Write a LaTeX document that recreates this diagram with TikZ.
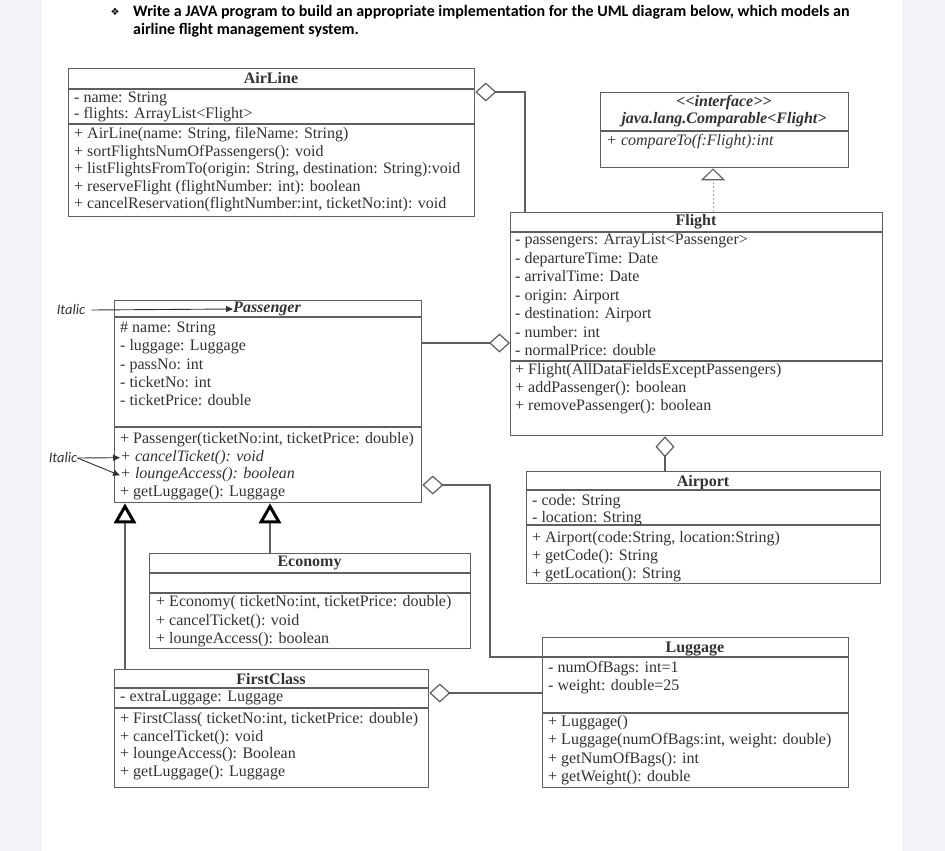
\documentclass[tikz,border=0pt]{standalone}
\usepackage{fontspec}
\setmainfont{Liberation Serif}
\newfontfamily\notefont{Carlito}
\newfontfamily\dingfont{DejaVu Sans}
\usetikzlibrary{arrows.meta}
\definecolor{pagegray}{RGB}{241,243,246}
\definecolor{ink}{RGB}{50,50,50}
\definecolor{rule}{RGB}{95,95,95}

\begin{document}
\begin{tikzpicture}[x=1pt, y=-1pt,
    every node/.style={font=\fontsize{16}{18}\selectfont, text=ink},
    box/.style={draw=rule, line width=1.3pt, anchor=north west, inner sep=0pt},
    row/.style={anchor=west, inner sep=0pt, text height=11pt, text depth=4pt},
    head/.style={inner sep=0pt, font=\fontsize{16}{18}\selectfont\bfseries},
    compline/.style={draw=rule, line width=1.1pt},
    itnote/.style={inner sep=0pt, font=\notefont\itshape\fontsize{14.5}{16}\selectfont},
    pointer/.style={draw=ink, line width=0.9pt, -{Triangle[length=7pt, width=6pt]}},
    aggr/.style={draw=rule, line width=1.2pt, {Diamond[open, length=21pt, width=19pt]}-},
    gen/.style={draw=rule, line width=1.2pt, -{Triangle[open, length=20pt, width=22pt, line width=3pt, color=black]}},
    real/.style={draw=rule!55, line width=1pt, dash pattern=on 2pt off 2pt, -{Triangle[open, length=12pt, width=24pt, line width=1.2pt, color=rule]}}]
    \useasboundingbox (0,0) rectangle (945,851);
    \fill[pagegray] (0,0) rectangle (945,851);
    \fill[white] (42,0) rectangle (902,851);

    % task text
    \node[font=\dingfont\fontsize{10}{10}\selectfont, text=black] (bullet) at (115,12) {❖};
    \node[anchor=base west, inner sep=0pt, text=black, font=\notefont\bfseries\fontsize{16}{18}\selectfont] (task1) at (133,17)
        {Write a JAVA program to build an appropriate implementation for the UML diagram below, which models an};
    \node[anchor=base west, inner sep=0pt, text=black, font=\notefont\bfseries\fontsize{16}{18}\selectfont] (task2) at (133,35)
        {airline flight management system.};

    % AirLine
    \node[box, minimum width=406pt, minimum height=148pt] (airline) at (68,68) {};
    \node[head] (airline-t) at (271,78) {AirLine};
    \draw[compline] (68,89) -- (474,89);
    \draw[compline] (68,124) -- (474,124);
    \foreach \txt [count=\k] in {- name: String, {- flights: ArrayList<Flight>}}
        \node[row] (airline-a\k) at (74, 99+16*\k-16) {\txt};
    \foreach \txt [count=\k] in {{+ AirLine(name: String, fileName: String)}, + sortFlightsNumOfPassengers(): void,
        {+ listFlightsFromTo(origin: String, destination: String):void}, + reserveFlight (flightNumber: int): boolean,
        {+ cancelReservation(flightNumber:int, ticketNo:int): void}}
        \node[row] (airline-m\k) at (74, 135+17.5*\k-17.5) {\txt};

    % interface
    \node[box, minimum width=248pt, minimum height=75pt] (iface) at (600,92) {};
    \node[head, font=\fontsize{16}{18}\selectfont\bfseries\itshape] (iface-s) at (724,103) {<\kern0pt<interface>\kern0pt>};
    \node[head, font=\fontsize{16}{18}\selectfont\bfseries\itshape] (iface-t) at (724,120) {java.lang.Comparable<Flight>};
    \draw[compline] (600,131) -- (848,131);
    \node[row, font=\fontsize{16}{18}\selectfont\itshape] (iface-m1) at (606,142) {+ compareTo(f:Flight):int};

    % Flight
    \node[box, minimum width=372pt, minimum height=223pt] (flight) at (510,212) {};
    \node[head] (flight-t) at (696,222) {Flight};
    \draw[compline] (510,232) -- (882,232);
    \draw[compline] (510,361) -- (882,361);
    \foreach \txt [count=\k] in {- passengers: ArrayList<Passenger>, - departureTime: Date, - arrivalTime: Date,
        - origin: Airport, - destination: Airport, - number: int, - normalPrice: double}
        \node[row] (flight-a\k) at (515, 241+18.5*\k-18.5) {\txt};
    \foreach \txt [count=\k] in {+ Flight(AllDataFieldsExceptPassengers), + addPassenger(): boolean, + removePassenger(): boolean}
        \node[row] (flight-m\k) at (515, 371+18*\k-18) {\txt};

    % Passenger
    \node[box, minimum width=307pt, minimum height=202pt] (passenger) at (114,300) {};
    \node[head, font=\fontsize{16}{18}\selectfont\bfseries\itshape] (passenger-t) at (267,309) {Passenger};
    \draw[compline] (114,317) -- (421,317);
    \draw[compline] (114,427) -- (421,427);
    \foreach \txt [count=\k] in {\# name: String, - luggage: Luggage, - passNo: int, - ticketNo: int, - ticketPrice: double}
        \node[row] (passenger-a\k) at (120, 329+18.3*\k-18.3) {\txt};
    \foreach \txt [count=\k] in {{+ Passenger(ticketNo:int, ticketPrice: double)}, \textit{+ cancelTicket(): void},
        \textit{+ loungeAccess(): boolean}, + getLuggage(): Luggage}
        \node[row] (passenger-m\k) at (120, 440+17.7*\k-17.7) {\txt};

    % Economy
    \node[box, minimum width=321pt, minimum height=95pt] (economy) at (149,553) {};
    \node[head] (economy-t) at (309.5,563) {Economy};
    \draw[compline] (149,573) -- (470,573);
    \draw[compline] (149,593) -- (470,593);
    \foreach \txt [count=\k] in {{+ Economy( ticketNo:int, ticketPrice: double)}, + cancelTicket(): void, + loungeAccess(): boolean}
        \node[row] (economy-m\k) at (156, 603+18.5*\k-18.5) {\txt};

    % FirstClass
    \node[box, minimum width=314pt, minimum height=118pt] (firstclass) at (114,669) {};
    \node[head] (firstclass-t) at (271,679) {FirstClass};
    \draw[compline] (114,688) -- (428,688);
    \draw[compline] (114,708) -- (428,708);
    \node[row] (firstclass-a1) at (120,698) {- extraLuggage: Luggage};
    \foreach \txt [count=\k] in {{+ FirstClass( ticketNo:int, ticketPrice: double)}, + cancelTicket(): void,
        + loungeAccess(): Boolean, + getLuggage(): Luggage}
        \node[row] (firstclass-m\k) at (120, 720+17.7*\k-17.7) {\txt};

    % Airport
    \node[box, minimum width=354pt, minimum height=112pt] (airport) at (526,471) {};
    \node[head] (airport-t) at (703,483) {Airport};
    \draw[compline] (526,490) -- (880,490);
    \draw[compline] (526,525) -- (880,525);
    \foreach \txt [count=\k] in {- code: String, - location: String}
        \node[row] (airport-a\k) at (532, 502+17*\k-17) {\txt};
    \foreach \txt [count=\k] in {{+ Airport(code:String, location:String)}, + getCode(): String, + getLocation(): String}
        \node[row] (airport-m\k) at (532, 539+18*\k-18) {\txt};

    % Luggage
    \node[box, minimum width=306pt, minimum height=150pt] (luggage) at (542,637) {};
    \node[head] (luggage-t) at (695,649) {Luggage};
    \draw[compline] (542,657) -- (848,657);
    \draw[compline] (542,713) -- (848,713);
    \foreach \txt [count=\k] in {- numOfBags: int=1, - weight: double=25}
        \node[row] (luggage-a\k) at (548, 669+18*\k-18) {\txt};
    \foreach \txt [count=\k] in {+ Luggage(), {+ Luggage(numOfBags:int, weight: double)}, + getNumOfBags(): int, + getWeight(): double}
        \node[row] (luggage-m\k) at (548, 723+18.3*\k-18.3) {\txt};

    % relations
    \draw[aggr] (airline.east |- 0,92) -| (flight.north -| 525,0);
    \draw[real] (flight.north -| 713,0) -- (iface.south -| 713,0);
    \draw[aggr] (flight.south -| 665,0) -- (airport.north -| 665,0);
    \draw[aggr] (flight.west |- 0,343) -- (passenger.east |- 0,343);
    \draw[aggr] (passenger.east |- 0,485) -- (490,485) |- (luggage.west |- 0,657);
    \draw[aggr] (firstclass.east |- 0,693) -- (luggage.west |- 0,693);
    \draw[gen] (economy.north -| 270,0) -- (passenger.south -| 270,0);
    \draw[gen] (firstclass.north -| 125,0) -- (passenger.south -| 125,0);

    % notes
    \node[itnote] (italic1) at (71,310) {Italic};
    \draw[pointer] (italic1.east) ++(6,0) -- (passenger-t.west);
    \node[itnote] (italic2) at (63,458) {Italic};
    \draw[pointer] (italic2.east) -- (passenger-m2.west);
    \draw[pointer] (italic2.east) -- (passenger-m3.west);
\end{tikzpicture}
\end{document}
